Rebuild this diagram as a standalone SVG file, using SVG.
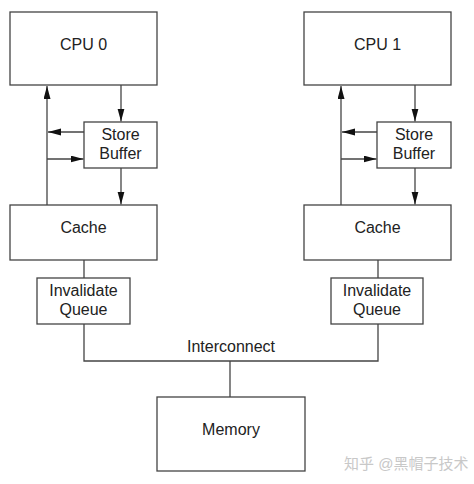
<svg xmlns="http://www.w3.org/2000/svg" width="474" height="484" viewBox="0 0 474 484">
<style>
.box{fill:#fff;stroke:#444;stroke-width:1.3}
.ln{fill:none;stroke:#444;stroke-width:1.3}
.t{font-family:"Liberation Sans",Arial,sans-serif;font-size:16px;fill:#222;text-anchor:middle}
.wm{font-family:"Liberation Sans","Noto Sans CJK SC",sans-serif;font-size:15px;fill:#c8c8c8}
</style>
<defs>
<marker id="ah" markerUnits="userSpaceOnUse" markerWidth="14" markerHeight="8" refX="13" refY="3.5" orient="auto">
<path d="M0,0 L13,3.5 L0,7 z" fill="#111"/>
</marker>
</defs>
<rect width="474" height="484" fill="#fff"/>
<g id="connectors">
<line class="ln" x1="121" y1="85" x2="121" y2="121.5" marker-end="url(#ah)"/>
<line class="ln" x1="121" y1="168" x2="121" y2="204.5" marker-end="url(#ah)"/>
<line class="ln" x1="47" y1="205" x2="47" y2="86" marker-end="url(#ah)"/>
<line class="ln" x1="84" y1="132" x2="48" y2="132" marker-end="url(#ah)"/>
<line class="ln" x1="47" y1="159" x2="83.5" y2="159" marker-end="url(#ah)"/>
<line class="ln" x1="415" y1="85" x2="415" y2="121.5" marker-end="url(#ah)"/>
<line class="ln" x1="415" y1="168" x2="415" y2="204.5" marker-end="url(#ah)"/>
<line class="ln" x1="341" y1="205" x2="341" y2="86" marker-end="url(#ah)"/>
<line class="ln" x1="377" y1="132" x2="342" y2="132" marker-end="url(#ah)"/>
<line class="ln" x1="341" y1="159" x2="376.5" y2="159" marker-end="url(#ah)"/>
<line class="ln" x1="84" y1="260" x2="84" y2="278"/>
<line class="ln" x1="378" y1="260" x2="378" y2="278"/>
<path class="ln" d="M84,324 V361 H378 V324"/>
<line class="ln" x1="230" y1="361" x2="230" y2="397"/>
<text class="t" x="231" y="352">Interconnect</text>
</g>
<g id="cpu0"><rect class="box" x="10" y="12" width="147" height="73"/><text class="t" x="83.5" y="50">CPU 0</text></g>
<g id="sb0"><rect class="box" x="84" y="122" width="73" height="46"/><text class="t" x="120.5" y="140">Store</text><text class="t" x="120.5" y="159">Buffer</text></g>
<g id="cache0"><rect class="box" x="10" y="205" width="147" height="55"/><text class="t" x="83.5" y="233">Cache</text></g>
<g id="iq0"><rect class="box" x="37" y="278" width="93" height="46"/><text class="t" x="83.5" y="296">Invalidate</text><text class="t" x="83.5" y="315">Queue</text></g>
<g id="cpu1"><rect class="box" x="304" y="12" width="147" height="73"/><text class="t" x="377.5" y="50">CPU 1</text></g>
<g id="sb1"><rect class="box" x="377" y="122" width="74" height="46"/><text class="t" x="414" y="140">Store</text><text class="t" x="414" y="159">Buffer</text></g>
<g id="cache1"><rect class="box" x="304" y="205" width="147" height="55"/><text class="t" x="377.5" y="233">Cache</text></g>
<g id="iq1"><rect class="box" x="331" y="278" width="92" height="46"/><text class="t" x="377" y="296">Invalidate</text><text class="t" x="377" y="315">Queue</text></g>
<g id="memory"><rect class="box" x="157" y="397" width="148" height="74"/><text class="t" x="231" y="435">Memory</text></g>
<text class="wm" x="344" y="469">知乎 @黑帽子技术</text>
</svg>
